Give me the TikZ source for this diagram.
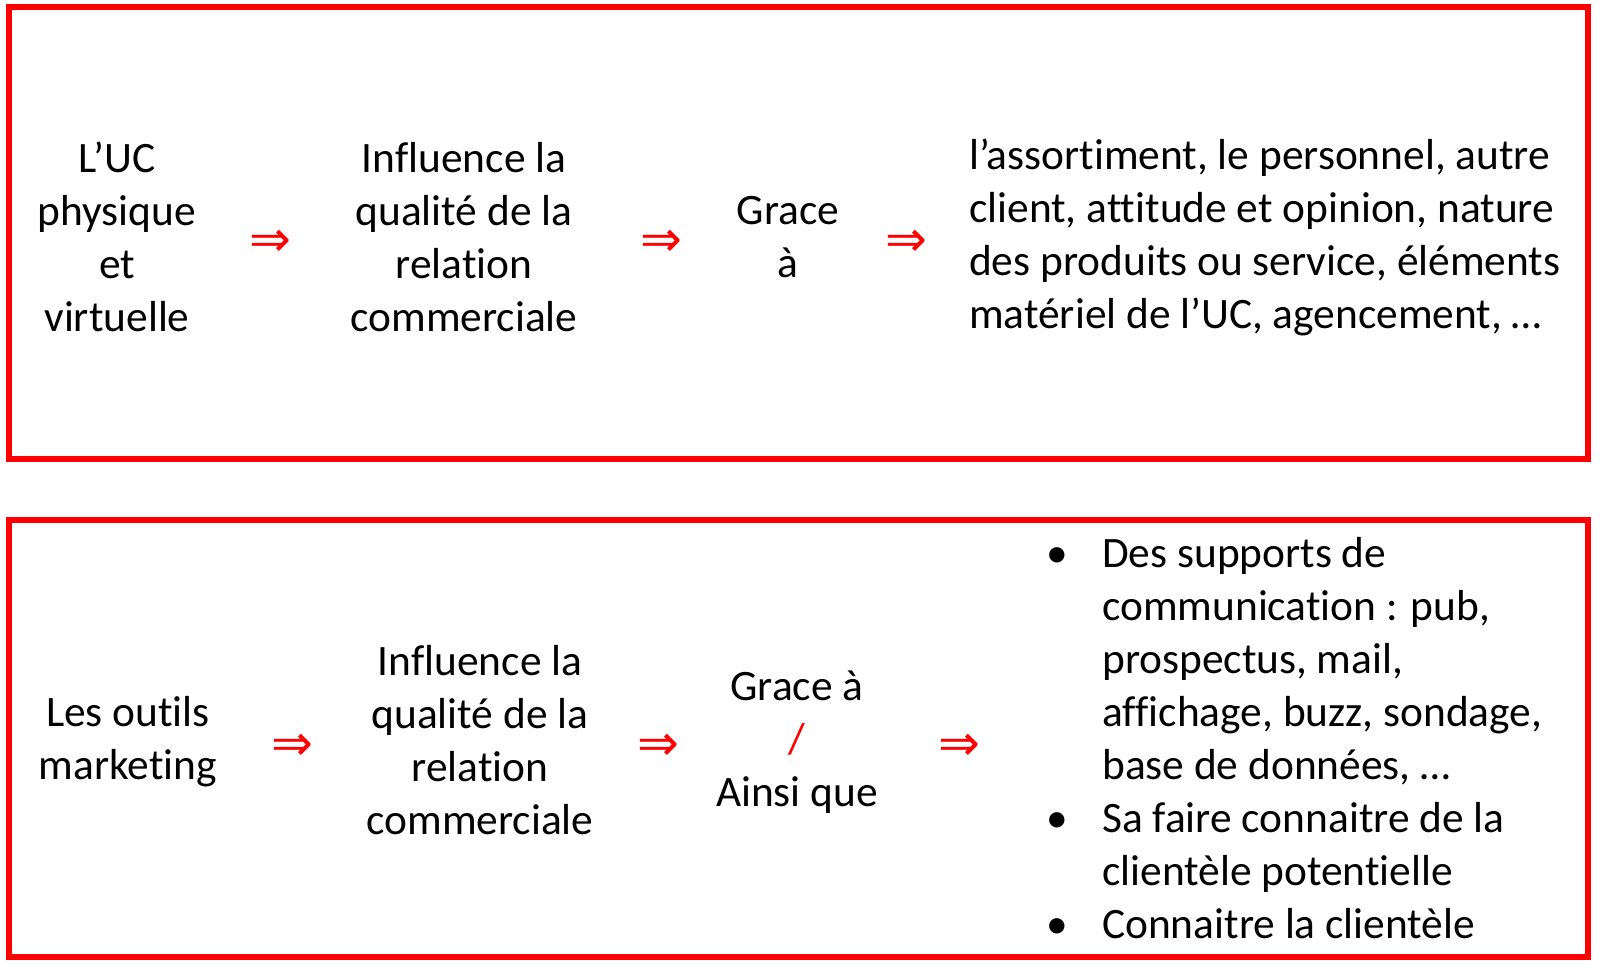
\documentclass[tikz,border=0pt]{standalone}
\usepackage{fontspec}
\setmainfont{Carlito}[Ligatures=NoCommon]
\newfontfamily\arrowfont{DejaVu Sans}
\begin{document}
\begin{tikzpicture}[x=1pt,y=-1pt,
  frame/.style={draw=red, line width=6pt},
  txt/.style={font=\fontsize{43.4}{53}\selectfont, inner sep=0pt, align=center},
  ltxt/.style={font=\fontsize{43.4}{53}\selectfont, inner sep=0pt, align=left, anchor=west},
  arr/.style={text=red, font=\arrowfont\fontsize{50}{60}\selectfont, inner sep=0pt}]
\useasboundingbox (0,0) rectangle (1600,971);
% frames
\draw[frame] (9,7) rectangle (1588,459);
\draw[frame] (9,520) rectangle (1588,957);
% top row
\node[txt] (t1) at (117,237) {L’UC\\physique\\et\\virtuelle};
\node[arr] (ta1) at (270,243) {⇒};
\node[txt] (t2) at (464,237) {Influence la\\qualité de la\\relation\\commerciale};
\node[arr] (ta2) at (661,243) {⇒};
\node[txt] (t3) at (788,237) {Grace\\à};
\node[arr] (ta3) at (906,243) {⇒};
\node[ltxt] (t4) at (969,237) {l’assortiment, le personnel, autre\\client, attitude et opinion, nature\\des produits ou service, éléments\\matériel de l’UC, agencement, …};
% bottom row
\node[txt] (b1) at (128,742) {Les outils\\marketing};
\node[arr] (ba1) at (292,747) {⇒};
\node[txt] (b2) at (480,740) {Influence la\\qualité de la\\relation\\commerciale};
\node[arr] (ba2) at (658,747) {⇒};
\node[txt] (b3) at (797,742) {Grace à\\{\color{red}/}\\Ainsi que};
\node[arr] (ba3) at (959,747) {⇒};
\node[ltxt] (b4) at (1046,742) {\begin{tabular}{@{}p{56pt}@{}l@{}}
•&Des supports de\\
&communication : pub,\\
&prospectus, mail,\\
&affichage, buzz, sondage,\\
&base de données, …\\
•&Sa faire connaitre de la\\
&clientèle potentielle\\
•&Connaitre la clientèle
\end{tabular}};
\end{tikzpicture}
\end{document}
